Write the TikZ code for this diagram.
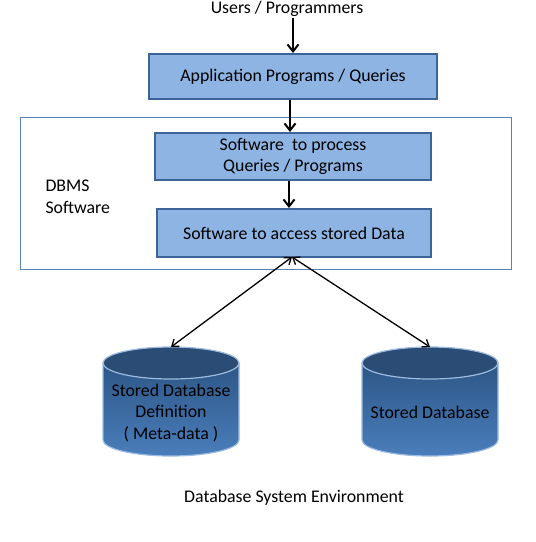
\documentclass[tikz,border=0pt]{standalone}
\usepackage{fontspec}
\setmainfont{Carlito}
\usetikzlibrary{arrows.meta,shapes.geometric}
\definecolor{boxfill}{HTML}{8EB4E3}
\definecolor{boxline}{HTML}{3C6496}
\definecolor{frameline}{HTML}{5B82B5}
\definecolor{cyltop}{HTML}{2B4C74}
\definecolor{cylbodytop}{HTML}{2D5686}
\definecolor{cylbodybot}{HTML}{4A7EBB}
\definecolor{cylline}{HTML}{9DBBE0}
\begin{document}
\begin{tikzpicture}[x=1pt,y=-1pt,
  font=\fontsize{17.8}{21.5}\selectfont,
  procbox/.style={draw=boxline,line width=2pt,fill=boxfill,inner sep=0pt,align=center},
  bigarrow/.style={-{Straight Barb[length=7pt,width=11pt,line width=2pt]},line width=2.8pt,black},
  thinarrow/.style={{Straight Barb[length=6pt,width=9pt]}-{Straight Barb[length=6pt,width=9pt]},line width=1.3pt,black}]
\useasboundingbox (0,0) rectangle (536,542);
% frame
\draw[frameline,line width=0.8pt] (20,117) rectangle (511,269);
\node[anchor=west,align=left] (dbms) at (42,197) {DBMS\\Software};
% top text
\node (users) at (287,9) {Users / Programmers};
% boxes
\node[procbox,minimum width=288pt,minimum height=45pt] (app) at (293,76.5) {Application Programs / Queries};
\node[procbox,minimum width=276pt,minimum height=47pt] (proc) at (293,156.5) {Software\ \ to process\\Queries / Programs};
\node[procbox,minimum width=274pt,minimum height=48pt] (acc) at (294,233) {Software to access stored Data};
% cylinders
\foreach \cx/\nm in {171/cylA,430/cylB}{
  \path[top color=cylbodytop,bottom color=cylbodybot,draw=cylline,line width=1.2pt]
    (\cx-68,363) -- (\cx-68,440) arc[start angle=180,end angle=360,x radius=68,y radius=-16]
    -- (\cx+68,363) -- cycle;
  \draw[fill=cyltop,draw=cylline,line width=1.2pt] (\cx,363) ellipse[x radius=68,y radius=16];
  \coordinate (\nm) at (\cx,347);
}
\node[text=black,align=center] (defn) at (171,413) {Stored Database\\Definition\\( Meta-data )};
\node[text=black] (sdb) at (430,412) {Stored Database};
% bottom caption
\node (cap) at (294,497.5) {Database System Environment};
% arrows
\coordinate (u0) at (293,18);
\draw[bigarrow] (u0) -- (app.north -| u0);
\draw[bigarrow] (app.south -| 290,0) -- (proc.north -| 290,0);
\draw[bigarrow] (proc.south -| 289,0) -- (acc.north -| 289,0);
\coordinate (accb) at (292,257);
\draw[thinarrow] (accb) -- (cylA);
\draw[thinarrow] (accb) -- (cylB);
\end{tikzpicture}
\end{document}
